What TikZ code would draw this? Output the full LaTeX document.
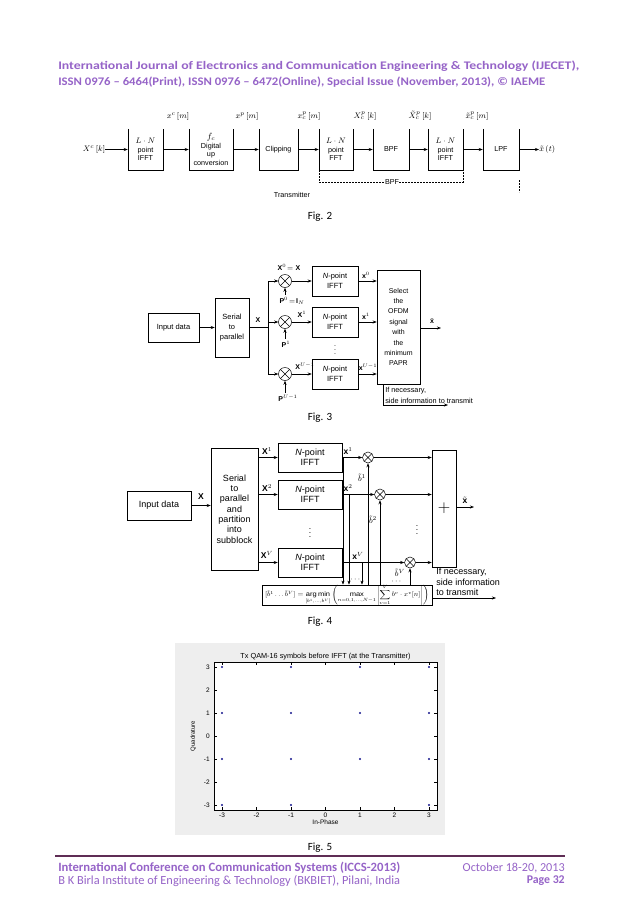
\documentclass[tikz,border=0pt]{standalone}
\usepackage{amsmath}
\usepackage{graphicx}
\usepackage{fontspec}
\setmainfont{Liberation Sans}
\newfontfamily\hdrfont{Carlito}
\usetikzlibrary{arrows.meta}
\definecolor{hdrpurple}{RGB}{150,100,200}
\definecolor{rulecol}{RGB}{95,45,85}
\definecolor{ptblue}{RGB}{20,20,140}
\definecolor{panelgrey}{RGB}{238,238,238}
\newcommand{\threeside}[1]{\draw (#1.north west) -- (#1.south west) -- (#1.south east) -- (#1.north east);}
\begin{document}
\begin{tikzpicture}[x=1pt,y=-1pt,line width=0.5pt,>={Stealth[length=4pt,width=3pt]},
  ftwo/.style={inner sep=0, align=center, font=\fontsize{7.2}{8.5}\selectfont},
  lbltwo/.style={inner sep=0, font=\fontsize{8.5}{10}\selectfont},
  boxthree/.style={draw, inner sep=0, align=center, font=\fontsize{7.5}{10.4}\selectfont},
  lblthree/.style={inner sep=0, font=\fontsize{7}{8}\selectfont},
  boxfour/.style={draw, inner sep=0, align=center, font=\fontsize{9}{10.3}\selectfont},
  lblfour/.style={inner sep=0, font=\fontsize{8.5}{9}\selectfont},
  mult/.style={circle, draw, inner sep=0, minimum size=#1,
    path picture={\draw (path picture bounding box.north west) -- (path picture bounding box.south east)
      (path picture bounding box.south west) -- (path picture bounding box.north east);}},
  figcap/.style={inner sep=0, font=\hdrfont\fontsize{11}{12}\selectfont},
  hdr/.style={inner sep=0, anchor=west, text=hdrpurple}]
\useasboundingbox (0,0) rectangle (638,903);
\fill[white] (0,0) rectangle (638,903);

% ---------- header ----------
\node[hdr] (h1) at (58,66) {\resizebox{521pt}{8.6pt}{\hdrfont\bfseries International Journal of Electronics and Communication Engineering \& Technology (IJECET),}};
\node[hdr] (h2) at (58,82) {\resizebox{487pt}{8.6pt}{\hdrfont\bfseries ISSN 0976 – 6464(Print), ISSN 0976 – 6472(Online), Special Issue (November, 2013), \textcopyright\ IAEME}};

% ---------- Fig 2 ----------
\node[ftwo, minimum width=35, minimum height=41] (f1) at (145.5,149.5) {{\fontsize{8.5}{9}\selectfont$L\cdot N$}\\point\\IFFT};
\node[ftwo, minimum width=44, minimum height=41] (f2) at (211,149.5) {{\fontsize{9}{9}\selectfont$f_c$}\\Digital\\up\\conversion};
\node[ftwo, minimum width=39, minimum height=41] (f3) at (278.5,149.5) {Clipping};
\node[ftwo, minimum width=34, minimum height=41] (f4) at (336,149.5) {{\fontsize{8.5}{9}\selectfont$L\cdot N$}\\point\\FFT};
\node[ftwo, minimum width=36, minimum height=41] (f5) at (391,149.5) {BPF};
\node[ftwo, minimum width=35, minimum height=41] (f6) at (445.5,149.5) {{\fontsize{8.5}{9}\selectfont$L\cdot N$}\\point\\IFFT};
\node[ftwo, minimum width=36, minimum height=41] (f7) at (501,149.5) {LPF};
\threeside{f1}\threeside{f2}\threeside{f3}\threeside{f4}\threeside{f5}\threeside{f6}\threeside{f7}
\node[lbltwo] (xin) at (94,149.5) {$X^{c}\,[k]$};
\node[lbltwo, anchor=west] (xout) at (539,149.5) {$\tilde{x}\,(t)$};
\draw[->] (xin.east) -- (f1.west);
\draw[->] (f1.east) -- (f2.west);
\draw[->] (f2.east) -- (f3.west);
\draw[->] (f3.east) -- (f4.west);
\draw[->] (f4.east) -- (f5.west);
\draw[->] (f5.east) -- (f6.west);
\draw[->] (f6.east) -- (f7.west);
\draw[->] (f7.east) -- (xout.west);
\node[lbltwo] (l1) at (178,116) {$x^{c}\,[m]$};
\node[lbltwo] (l2) at (247,116) {$x^{p}\,[m]$};
\node[lbltwo] (l3) at (309,116) {$x^{p}_{c}\,[m]$};
\node[lbltwo] (l4) at (365,116) {$X^{p}_{c}\,[k]$};
\node[lbltwo] (l5) at (420,116) {$\tilde{X}^{p}_{c}\,[k]$};
\node[lbltwo] (l6) at (477,116) {$\tilde{x}^{p}_{c}\,[m]$};
\node[ftwo] (bpfl) at (392,182) {BPF};
\draw[dashed, dash pattern=on 2pt off 1pt] (f4.south west) -- (f4.south west |- bpfl) -- (bpfl.west);
\draw[dashed, dash pattern=on 2pt off 1pt] (bpfl.east) -- (f6.south east |- bpfl) -- (f6.south east);
\draw[dashed, dash pattern=on 2pt off 1pt] (f7.south east) ++(0,10) -- ++(0,12);
\node[ftwo] (tx) at (292,195) {Transmitter};
\node[figcap] (c2) at (320,217) {Fig. 2};

% ---------- Fig 3 ----------
\node[boxthree, minimum width=51, minimum height=29] (in3) at (173.5,327.5) {Input data};
\node[boxthree, minimum width=34, minimum height=59] (sp3) at (232,327.5) {Serial\\to\\parallel};
\draw[->] (in3) -- (sp3);
\coordinate (br3) at (268,327.5);
\draw (sp3.east) -- (br3);
\node[lblthree] at (258,320) {$\mathbf{X}$};
\node[boxthree, minimum width=46, minimum height=30] (i0) at (335,281) {\textit{N}-point\\IFFT};
\node[boxthree, minimum width=46, minimum height=30] (i1) at (335,322) {\textit{N}-point\\IFFT};
\node[boxthree, minimum width=46, minimum height=30] (i2) at (335,374) {\textit{N}-point\\IFFT};
\node[mult=13] (m0) at (285,281) {};
\node[mult=13] (m1) at (285,322) {};
\node[mult=13] (m2) at (285,374) {};
\draw (br3 |- m0) -- (br3 |- m2);
\draw[->] (br3 |- m0) -- (m0);
\draw[->] (br3 |- m1) -- (m1);
\draw[->] (br3 |- m2) -- (m2);
\draw[->] (m0) -- (i0);
\draw[->] (m1) -- (i1);
\draw[->] (m2) -- (i2);
\node[lblthree] at (289,267) {$\mathbf{X}^0\!=\mathbf{X}$};
\node[lblthree] at (302,314) {$\mathbf{X}^1$};
\node[lblthree] at (305,366) {$\mathbf{X}^{U-1}$};
\node[lblthree] (p0) at (292,301) {$\mathbf{P}^0\!=\!\mathbf{I}_N$};
\node[lblthree] (p1) at (286,344) {$\mathbf{P}^1$};
\node[lblthree] (p2) at (288,398) {$\mathbf{P}^{U-1}$};
\draw[->] (m0 |- p0.north) ++(0,-2) -- (m0.south);
\draw[->] (m1 |- p1.north) ++(0,-2) -- (m1.south);
\draw[->] (m2 |- p2.north) ++(0,-2) -- (m2.south);
\node[lblthree] at (335,347) {$\vdots$};
\node[boxthree, minimum width=43, minimum height=114, font=\fontsize{7}{10.4}\selectfont] (sel) at (398.5,327) {Select\\the\\OFDM\\signal\\with\\the\\minimum\\PAPR};
\draw[->] (i0.east) -- (i0.east -| sel.west);
\draw[->] (i1.east) -- (i1.east -| sel.west);
\draw[->] (i2.east) -- (i2.east -| sel.west);
\node[lblthree] at (366,275) {$\mathbf{x}^0$};
\node[lblthree] at (366,316) {$\mathbf{x}^1$};
\node[lblthree] at (368,367) {$\mathbf{x}^{U-1}$};
\coordinate (o3) at (441,328);
\draw[->] (sel.east |- o3) -- (o3);
\node[lblthree] at (432,321) {$\tilde{\mathbf{x}}$};
\coordinate (s3a) at (383,405);
\coordinate (s3b) at (448,405);
\draw[->] (s3a |- sel.south) -- (s3a) -- (s3b);
\node[lblthree, anchor=west, font=\fontsize{7.3}{8}\selectfont] at (385,391) {If necessary,};
\node[lblthree, anchor=west, font=\fontsize{7.3}{8}\selectfont] at (385,400.5) {side information to transmit};
\node[figcap] (c3) at (320,418) {Fig. 3};

% ---------- Fig 4 ----------
\node[boxfour, minimum width=64, minimum height=29] (in4) at (159,505.5) {Input data};
\node[boxfour, minimum width=47, minimum height=122] (sp4) at (234.5,509) {Serial\\to\\parallel\\and\\partition\\into\\subblock};
\draw[->] (in4) -- (in4 -| sp4.west);
\node[lblfour] at (201,497) {$\mathbf{X}$};
\node[boxfour, minimum width=64, minimum height=29] (j1) at (310,457.5) {\textit{N}-point\\IFFT};
\node[boxfour, minimum width=64, minimum height=29] (j2) at (310,494.5) {\textit{N}-point\\IFFT};
\node[boxfour, minimum width=64, minimum height=29] (j3) at (310,562.5) {\textit{N}-point\\IFFT};
\draw[->] (sp4.east |- j1) -- (j1.west);
\draw[->] (sp4.east |- j2) -- (j2.west);
\draw[->] (sp4.east |- j3) -- (j3.west);
\node[lblfour] at (267,451) {$\mathbf{X}^1$};
\node[lblfour] at (267,488) {$\mathbf{X}^2$};
\node[lblfour] at (267,555) {$\mathbf{X}^V$};
\node[lblfour] at (310,530) {$\vdots$};
\node[mult=11] (n1) at (368,457.5) {};
\node[mult=11] (n2) at (380,494.5) {};
\node[mult=11] (n3) at (410,562.5) {};
\draw[->] (j1.east) -- (n1.west);
\draw[->] (j2.east) -- (n2.west);
\draw[->] (j3.east) -- (n3.west);
\node[lblfour] at (348,451) {$\mathbf{x}^1$};
\node[lblfour] at (348,488) {$\mathbf{x}^2$};
\node[lblfour] at (358,556) {$\mathbf{x}^V$};
\node[draw, inner sep=0, minimum width=24, minimum height=117] (pl) at (444,508.5) {\fontsize{16}{16}\selectfont$+$};
\draw[->] (n1.east) -- (n1 -| pl.west);
\draw[->] (n2.east) -- (n2 -| pl.west);
\draw[->] (n3.east) -- (n3 -| pl.west);
\node[lblfour] at (417,527) {$\vdots$};
\coordinate (o4) at (474,507);
\draw[->] (pl.east |- o4) -- (o4);
\node[lblfour] at (465,500) {$\tilde{\mathbf{x}}$};
\node[draw, inner sep=0, minimum width=170, minimum height=16] (fb) at (347,595)
  {\resizebox{164pt}{12pt}{$\displaystyle[\tilde{b}^1\ldots\tilde{b}^V]=\operatorname*{arg\,min}_{[b^1,\ldots,b^V]}\left(\max_{n=0,1,\ldots,N-1}\left|\sum_{v=1}^{V} b^v\cdot x^v[n]\right|\right)$}};
\coordinate (d1) at (343,457.5);
\coordinate (d2) at (349,494.5);
\coordinate (d3) at (362,562.5);
\draw[->] (d1) -- (d1 |- fb.north);
\draw[->] (d2) -- (d2 |- fb.north);
\draw[->] (d3) -- (d3 |- fb.north);
\node[lblfour] at (356,580) {$\cdots$};
\draw[->] (n1 |- fb.north) -- (n1.south);
\draw[->] (n2 |- fb.north) -- (n2.south);
\draw[->] (n3 |- fb.north) -- (n3.south);
\node[lblfour] at (362,478) {$\tilde{b}^1$};
\node[lblfour] at (373,520) {$\tilde{b}^2$};
\node[lblfour] at (400,573) {$\tilde{b}^V$};
\node[lblfour] at (397,582) {$\cdots$};
\coordinate (o4b) at (496,598);
\draw[->] (fb.east |- o4b) -- (o4b);
\node[inner sep=0, anchor=west, font=\fontsize{9}{10}\selectfont] at (436,572) {If necessary,};
\node[inner sep=0, anchor=west, font=\fontsize{9}{10}\selectfont] at (436,582) {side information};
\node[inner sep=0, anchor=west, font=\fontsize{9}{10}\selectfont] at (436,592) {to transmit};
\node[figcap] (c4) at (320,622) {Fig. 4};

% ---------- Fig 5 ----------
\fill[panelgrey] (175,643) rectangle (445,835);
\begin{scope}[shift={(325.5,736)}, x=34.5pt, y=23pt, line width=0.4pt]
  \fill[white] (-3.23,-3.22) rectangle (3.23,3.22);
  \draw (-3.23,-3.22) rectangle (3.23,3.22);
  \foreach \t in {-3,...,3} {
    \draw (\t,-3.22) -- ++(0,0.13);
    \draw (\t,3.22) -- ++(0,-0.13);
    \draw (-3.23,\t) -- ++(0.087,0);
    \draw (3.23,\t) -- ++(-0.087,0);
    \node[inner sep=0, font=\fontsize{6.5}{7}\selectfont] at (\t,-3.46) {\t};
    \node[inner sep=0, anchor=east, font=\fontsize{6.5}{7}\selectfont] at (-3.35,\t) {\t};
  }
  \node[inner sep=0, font=\fontsize{7.3}{8}\selectfont] at (0,3.45) {Tx QAM-16 symbols before IFFT (at the Transmitter)};
  \node[inner sep=0, font=\fontsize{6.5}{7}\selectfont] at (0,-3.75) {In-Phase};
  \node[inner sep=0, rotate=90, font=\fontsize{6}{7}\selectfont] at (-3.83,0) {Quadrature};
  \foreach \p in {(-3,3),(-3,1),(-3,-1),(-3,-3),(-1,3),(-1,1),(-1,-1),(-1,-3),(1,3),(1,1),(1,-1),(3,3),(3,1),(3,-1),(3,-3)}
    \fill[ptblue] \p circle[radius=1.2pt];
\end{scope}
\node[figcap] (c5) at (320,848) {Fig. 5};

% ---------- footer ----------
\draw[rulecol, line width=2.5pt] (55,856) -- (565,856);
\node[hdr] (fl1) at (58,868) {\resizebox{342pt}{!}{\hdrfont\bfseries International Conference on Communication Systems (ICCS-2013)}};
\node[hdr] (fl2) at (58,881) {\resizebox{342pt}{!}{\hdrfont B K Birla Institute of Engineering \& Technology (BKBIET), Pilani, India}};
\node[hdr, anchor=east] (fr1) at (565,868) {\resizebox{102pt}{!}{\hdrfont October 18-20, 2013}};
\node[hdr, anchor=east] (fr2) at (565,881) {\resizebox{38pt}{!}{\hdrfont\bfseries Page 32}};
\end{tikzpicture}
\end{document}
